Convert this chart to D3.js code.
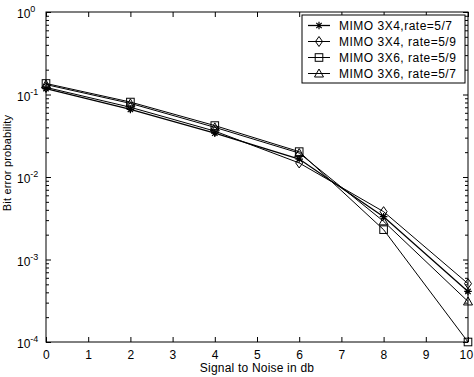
<!DOCTYPE html>
<html>
<head>
<meta charset="utf-8">
<script src="https://cdn.jsdelivr.net/npm/d3@7"></script>
<style>
  body { margin: 0; background: #fff; }
  svg text { font-family: "Liberation Sans", Arial, sans-serif; fill: #000; }
</style>
</head>
<body>
<div id="chart"></div>
<script>
// data
const snr = [0, 2, 4, 6, 8, 10];
const ber3x4r57 = [0.118, 0.066, 0.034, 0.0165, 0.0033, 0.00041];
const ber3x4r59 = [0.122, 0.070, 0.036, 0.0148, 0.0038, 0.00051];
const ber3x6r59 = [0.136, 0.081, 0.042, 0.0203, 0.0023, 0.0001];
const ber3x6r57 = [0.132, 0.078, 0.040, 0.0195, 0.0029, 0.00031];
const seriesNames = ["MIMO 3X4,rate=5/7", "MIMO 3X4, rate=5/9", "MIMO 3X6, rate=5/9", "MIMO 3X6, rate=5/7"];
const seriesMarkers = ["star", "diamond", "square", "triangle"];
const xTicks = [0, 1, 2, 3, 4, 5, 6, 7, 8, 9, 10];
const yDecades = [0, -1, -2, -3, -4];

const series = [ber3x4r57, ber3x4r59, ber3x6r59, ber3x6r57].map((v, i) => ({
    name: seriesNames[i],
    marker: seriesMarkers[i],
    values: snr.map((s, j) => ({ x: s, y: v[j] }))
}));

const W = 474, H = 377;
const margin = { top: 12, right: 6, bottom: 35, left: 46 };
const width = W - margin.left - margin.right;
const height = H - margin.top - margin.bottom;

const svg = d3.select("#chart").append("svg")
    .attr("width", W).attr("height", H);
const g = svg.append("g")
    .attr("transform", `translate(${margin.left},${margin.top})`);

const x = d3.scaleLinear().domain([0, 10]).range([0, width]);
const y = d3.scaleLog().domain([1e-4, 1]).range([height, 0]);

// minor log ticks
const minorVals = [];
for (let e = -4; e < 0; e++) {
    for (let m = 2; m <= 9; m++) minorVals.push(m * Math.pow(10, e));
}

// axes with inward ticks (box style)
const tickStyle = sel => {
    sel.select(".domain").remove();
    sel.selectAll("line").attr("stroke", "#000").attr("stroke-width", 1);
};

const xAxisG = g.append("g").attr("transform", `translate(0,${height})`)
    .call(d3.axisBottom(x).tickValues(xTicks).tickSize(-5).tickPadding(8).tickFormat(d3.format("d")))
    .call(tickStyle);
xAxisG.selectAll("text").style("font-size", "12px").style("letter-spacing", "0.3px");
// last label sits at the window edge, keep it inside
xAxisG.selectAll("text").filter(d => d === 10).attr("text-anchor", "end").attr("x", 5);

g.append("g")
    .call(d3.axisTop(x).tickValues(xTicks).tickSize(-5).tickFormat(""))
    .call(tickStyle);

const yMajor = yDecades.map(e => Math.pow(10, e));
g.append("g")
    .call(d3.axisLeft(y).tickValues(yMajor).tickSize(-5).tickFormat(""))
    .call(tickStyle);
g.append("g")
    .call(d3.axisLeft(y).tickValues(minorVals).tickSize(-3).tickFormat(""))
    .call(tickStyle);
g.append("g").attr("transform", `translate(${width},0)`)
    .call(d3.axisRight(y).tickValues(yMajor).tickSize(-5).tickFormat(""))
    .call(tickStyle);
g.append("g").attr("transform", `translate(${width},0)`)
    .call(d3.axisRight(y).tickValues(minorVals).tickSize(-3).tickFormat(""))
    .call(tickStyle);

// y tick labels as 10^e
const yLab = g.append("g").selectAll("text").data(yDecades).join("text")
    .attr("x", -29)
    .attr("y", d => y(Math.pow(10, d)) + 6)
    .style("font-size", "12px");
yLab.append("tspan").text("10");
yLab.append("tspan").attr("dy", -6).style("font-size", "9px").text(d => d);

// frame
g.append("rect").attr("width", width).attr("height", height)
    .attr("fill", "none").attr("stroke", "#000").attr("stroke-width", 1);

// lines
const line = d3.line().x(d => x(d.x)).y(d => y(d.y));

function marker(sel, type, cx, cy) {
    const s = 3.8;
    if (type === "star") {
        sel.append("path")
            .attr("d", `M${cx - s},${cy}H${cx + s}M${cx},${cy - s}V${cy + s}M${cx - 2.7},${cy - 2.7}L${cx + 2.7},${cy + 2.7}M${cx - 2.7},${cy + 2.7}L${cx + 2.7},${cy - 2.7}`)
            .attr("stroke", "#000").attr("stroke-width", 1.2).attr("fill", "none");
    } else if (type === "diamond") {
        sel.append("path")
            .attr("d", `M${cx},${cy - 5}L${cx + 3.5},${cy}L${cx},${cy + 5}L${cx - 3.5},${cy}Z`)
            .attr("stroke", "#000").attr("fill", "none");
    } else if (type === "square") {
        sel.append("rect")
            .attr("x", cx - s).attr("y", cy - s).attr("width", 2 * s).attr("height", 2 * s)
            .attr("stroke", "#000").attr("fill", "none");
    } else {
        sel.append("path")
            .attr("d", `M${cx},${cy - 4.5}L${cx + 4.5},${cy + 3.5}L${cx - 4.5},${cy + 3.5}Z`)
            .attr("stroke", "#000").attr("fill", "none");
    }
}

series.forEach(sr => {
    g.append("path").datum(sr.values)
        .attr("d", line)
        .attr("fill", "none").attr("stroke", "#000")
        .attr("stroke-width", sr.marker === "star" ? 1.3 : 1);
    const mg = g.append("g");
    sr.values.forEach(d => marker(mg, sr.marker, x(d.x), y(d.y)));
});

// legend
const lg = svg.append("g").attr("transform", "translate(302,15)");
lg.append("rect").attr("width", 163).attr("height", 68)
    .attr("fill", "#fff").attr("stroke", "#000");
series.forEach((sr, i) => {
    const ly = 10.5 + i * 16;
    lg.append("line").attr("x1", 6).attr("x2", 28).attr("y1", ly).attr("y2", ly)
        .attr("stroke", "#000").attr("stroke-width", sr.marker === "star" ? 1.3 : 1);
    marker(lg, sr.marker, 17, ly);
    lg.append("text").attr("x", 37).attr("y", ly + 4.5)
        .style("font-size", "12px").style("letter-spacing", "0.5px").text(sr.name);
});

// axis titles
svg.append("text")
    .attr("x", margin.left + width / 2).attr("y", 372)
    .attr("text-anchor", "middle").style("font-size", "12px").style("letter-spacing", "0.2px")
    .text("Signal to Noise in db");
svg.append("text")
    .attr("transform", `translate(11,163) rotate(-90)`)
    .attr("text-anchor", "middle").style("font-size", "11px").style("letter-spacing", "0.2px")
    .text("Bit error probability");
</script>
</body>
</html>
